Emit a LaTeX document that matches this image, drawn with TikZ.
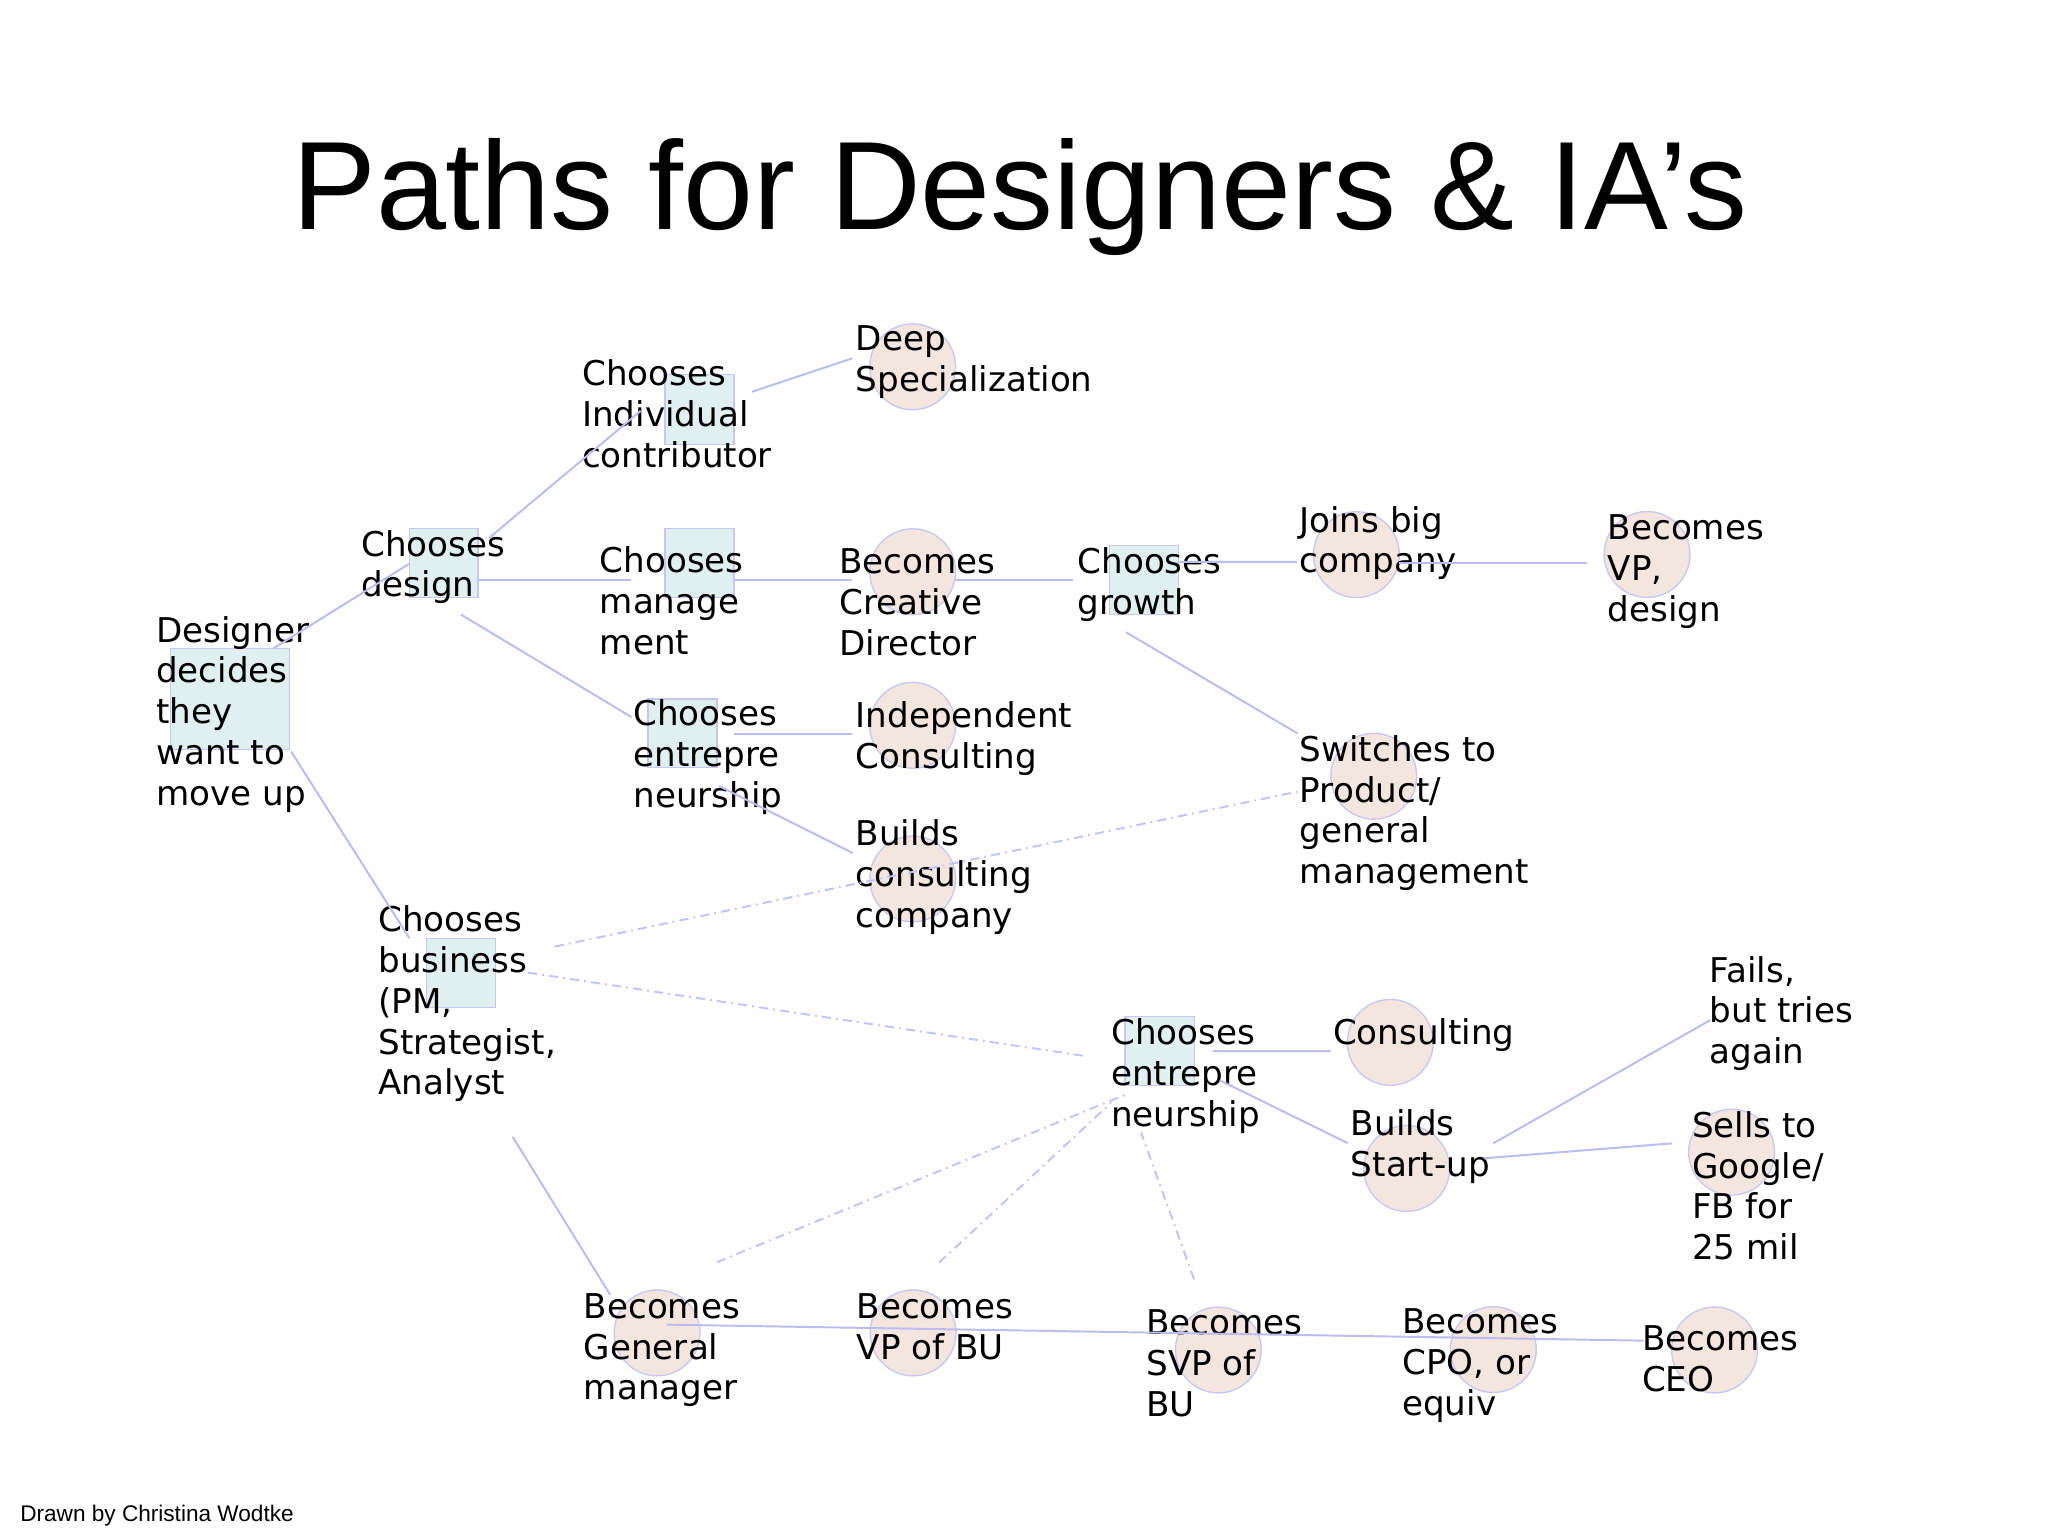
\documentclass[tikz,border=0pt]{standalone}
\usepackage{fontspec}
\newfontfamily\dejavu{DejaVu Sans}
\newfontfamily\libsans{Liberation Sans}
\usetikzlibrary{calc}
\definecolor{sqfill}{RGB}{224,239,239}
\definecolor{sqline}{RGB}{198,198,242}
\definecolor{cifill}{RGB}{243,230,223}
\definecolor{ciline}{RGB}{200,200,245}
\definecolor{conncol}{RGB}{188,188,242}
\definecolor{dashcol}{RGB}{196,196,250}
\begin{document}
\begin{tikzpicture}[x=0.02cm,y=-0.02cm,
  sq/.style={draw=sqline,fill=sqfill,line width=0.6pt,inner sep=0pt,rectangle,minimum width=1.05cm,minimum height=1.05cm},
  ci/.style={draw=ciline,fill=cifill,line width=0.6pt,circle,inner sep=0pt,minimum size=1.308cm},
  conn/.style={draw=conncol,line width=0.85pt},
  dconn/.style={draw=dashcol,line width=0.85pt,dash pattern=on 4pt off 2.2pt on 0.8pt off 2.2pt},
  lbl/.style={anchor=north west,inner sep=0pt,align=left,font=\dejavu\fontsize{14.8pt}{17.7pt}\selectfont,text=black}]
\useasboundingbox[fill=white] (0,0) rectangle (1560,1170);

% squares
\node[sq,minimum width=1.814cm,minimum height=1.544cm] (rdesigner) at (175.35,532.4) {};
\node[sq] (rdesign) at (337.95,428.9) {};
\node[sq,minimum height=1.068cm] (ric) at (532.8,312) {};
\node[sq] (rmanage) at (532.8,428.9) {};
\node[sq] (rentre1) at (519.95,558.6) {};
\node[sq] (rgrowth) at (871.25,441.9) {};
\node[sq] (rbusiness) at (351.15,741.15) {};
\node[sq,minimum width=1.06cm] (rentre2) at (883.5,800.45) {};

% circles
\node[ci] (cdeep) at (695.2,279.4) {};
\node[ci] (ccd) at (695.2,435.5) {};
\node[ci] (cindep) at (695.2,552.5) {};
\node[ci] (cbcc) at (695.2,669.5) {};
\node[ci] (cjoins) at (1033.2,422.5) {};
\node[ci] (cvp) at (1254.6,422.4) {};
\node[ci] (cswitch) at (1046.4,591.3) {};
\node[ci] (cconsult) at (1059,794) {};
\node[ci] (cstartup) at (1071.5,890) {};
\node[ci] (csells) at (1319,877.6) {};
\node[ci] (cgm) at (500.5,1015.3) {};
\node[ci] (cvpbu) at (695.5,1015.3) {};
\node[ci] (csvp) at (928,1028.3) {};
\node[ci] (ccpo) at (1137.5,1028) {};
\node[ci] (cceo) at (1306,1028.3) {};

% texts
\node[lbl] (tdesigner) at (118.7,467.0) {\strut Designer\\decides\\they\\want to\\move up};
\node[lbl] (tdesign) at (274.8,401.4) {\strut Chooses\\design};
\node[lbl] (tic) at (443.1,271.7) {\strut Chooses\\Individual\\contributor};
\node[lbl] (tdeep) at (651.5,244.7) {\strut Deep\\Specialization};
\node[lbl] (tmanage) at (456.5,414.3) {\strut Chooses\\manage\\ment};
\node[lbl] (tcd) at (639.1,414.7) {\strut Becomes\\Creative\\Director};
\node[lbl] (tgrowth) at (820.5,414.7) {\strut Chooses\\growth};
\node[lbl] (tjoins) at (989.5,383.2) {\strut Joins big\\company};
\node[lbl] (tvp) at (1224.4,389.0) {\strut Becomes\\VP,\\design};
\node[lbl] (tentre1) at (482.1,530.8) {\strut Chooses\\entrepre\\neurship};
\node[lbl] (tindep) at (651.5,531.8) {\strut Independent\\Consulting};
\node[lbl] (tbcc) at (651.5,622.2) {\strut Builds\\consulting\\company};
\node[lbl] (tswitch) at (989.8,557.7) {\strut Switches to\\Product/\\general\\management};
\node[lbl] (tbusiness) at (287.9,687.5) {\strut Chooses\\business\\(PM,\\Strategist,\\Analyst};
\node[lbl] (tentre2) at (846.1,773.8) {\strut Chooses\\entrepre\\neurship};
\node[lbl] (tconsult) at (1015.1,773.5) {\strut Consulting};
\node[lbl] (tfails) at (1302.1,726.0) {\strut Fails,\\but tries\\again};
\node[lbl] (tstartup) at (1028.7,842.8) {\strut Builds\\Start-up};
\node[lbl] (tsells) at (1288.5,844.1) {\strut Sells to\\Google/\\FB for\\25 mil};
\node[lbl] (tgm) at (444.4,982.0) {\strut Becomes\\General\\manager};
\node[lbl] (tvpbu) at (652.2,982.0) {\strut Becomes\\VP of BU};
\node[lbl] (tsvp) at (873.0,994.5) {\strut Becomes\\SVP of\\BU};
\node[lbl] (tcpo) at (1067.8,994.0) {\strut Becomes\\CPO, or\\equiv};
\node[lbl] (tceo) at (1250.4,1006.5) {\strut Becomes\\CEO};

% solid connectors
\draw[conn] ($(rdesigner.center)+(33.05,-38.6)$) -- ($(rdesign.center)+(-26.45,0.7)$);
\draw[conn] ($(rdesign.center)+(34.55,-19.1)$) -- ($(ric.center)+(-44.8,1)$);
\draw[conn] ($(rdesign.center)+(26.45,13)$) -- ($(rmanage.center)+(-51.8,13)$);
\draw[conn] ($(rdesign.center)+(13.15,39.2)$) -- ($(rentre1.center)+(-38.95,-12.4)$);
\draw[conn] ($(ric.center)+(40,-13.6)$) -- ($(cdeep.center)+(-45.9,-6.5)$);
\draw[conn] ($(rmanage.center)+(26.2,13)$) -- ($(ccd.center)+(-45.9,6.4)$);
\draw[conn] ($(ccd.center)+(32.6,6.4)$) -- ($(rgrowth.center)+(-53.65,0)$);
\draw[conn] ($(rgrowth.center)+(26.25,-13.9)$) -- ($(cjoins.center)+(-45.4,5.5)$);
\draw[conn] ($(cjoins.center)+(32.8,6.1)$) -- ($(cvp.center)+(-46,6.2)$);
\draw[conn] ($(rgrowth.center)+(-13.55,39.7)$) -- ($(cswitch.center)+(-58.1,-32.7)$);
\draw[conn] ($(rentre1.center)+(39.05,0.2)$) -- ($(cindep.center)+(-45.9,6.3)$);
\draw[conn] ($(rentre1.center)+(27.75,40.1)$) -- ($(cbcc.center)+(-45.9,-19.8)$);
\draw[conn] ($(rdesigner.center)+(46.45,40.1)$) -- ($(rbusiness.center)+(-39.35,-26.55)$);
\draw[conn] ($(rbusiness.center)+(39.35,124.75)$) -- ($(cgm.center)+(-35.7,-29)$);
\draw[conn] ($(cgm.center)+(7.5,-6.3)$) -- ($(cvpbu.center)+(0,-3.2)$) -- ($(csvp.center)+(0,-12.4)$) -- ($(ccpo.center)+(0,-8.7)$) -- ($(cceo.center)+(-54.1,-7.1)$);
\draw[conn] ($(rentre2.center)+(40.2,0.15)$) -- ($(cconsult.center)+(-45.4,6.6)$);
\draw[conn] ($(rentre2.center)+(45.5,22.35)$) -- ($(cstartup.center)+(-45,-19.3)$);
\draw[conn] ($(cstartup.center)+(65.9,-19.1)$) -- ($(tfails.north west)+(0.7,51)$);
\draw[conn] ($(cstartup.center)+(58.7,-7.7)$) -- ($(csells.center)+(-45.3,-6.7)$);

% dash-dot connectors
\draw[dconn] ($(rbusiness.center)+(71.45,-20.15)$) -- ($(cswitch.center)+(-55.2,11.1)$);
\draw[dconn] ($(rbusiness.center)+(51.05,-0.25)$) -- ($(rentre2.center)+(-57,3.95)$);
\draw[dconn] ($(cgm.center)+(45.4,-53.8)$) -- ($(rentre2.center)+(-25.5,33.05)$);
\draw[dconn] ($(cvpbu.center)+(19.8,-53.5)$) -- ($(rentre2.center)+(-37.1,39.45)$);
\draw[dconn] ($(csvp.center)+(-18.4,-53.8)$) -- ($(rentre2.center)+(-14.4,62.15)$);

% title and credit
\node[anchor=base west,inner sep=0pt,font=\libsans\fontsize{54.5pt}{65pt}\selectfont] (title) at (222.2,174.7) {Paths for Designers \& IA’s};
\node[anchor=base west,inner sep=0pt,font=\libsans\fontsize{9.8pt}{12pt}\selectfont] (credit) at (15.1,1158.6) {Drawn by Christina Wodtke};
\end{tikzpicture}
\end{document}
